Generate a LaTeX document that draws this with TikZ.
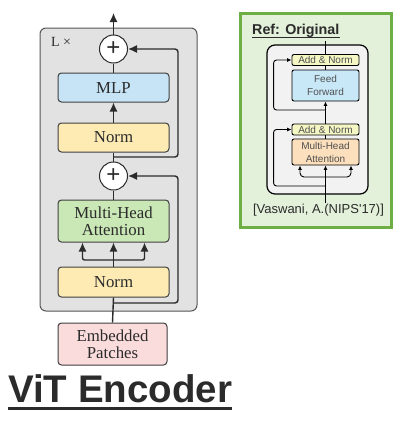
\documentclass[tikz,border=0pt]{standalone}
\usepackage{fontspec}
\setmainfont{Liberation Serif}
\newfontfamily\helv{Liberation Sans}
\usetikzlibrary{
  arrows.meta,
  calc,
  backgrounds,
}
\definecolor{ink}{HTML}{2B2B2B}
\definecolor{layerFill}{HTML}{E2E2E2}
\definecolor{layerStroke}{HTML}{555555}
\definecolor{blockStroke}{HTML}{404040}
\definecolor{mlpFill}{HTML}{C6E4F6}
\definecolor{normFill}{HTML}{FDEBB3}
\definecolor{mhaFill}{HTML}{CAE7B6}
\definecolor{embFill}{HTML}{FADCDC}
\definecolor{refStroke}{HTML}{6DAE45}
\definecolor{refFill}{HTML}{E3F0DA}
\definecolor{innerFill}{HTML}{F2F2F2}
\definecolor{refText}{HTML}{505050}
\definecolor{anFill}{HTML}{F4F6C4}
\definecolor{ffFill}{HTML}{C8E8F8}
\definecolor{rmhaFill}{HTML}{FCDFBC}
\newcommand{\blockfont}{\fontsize{16.8}{17}\selectfont}
\newcommand{\plusfont}{\helv\fontsize{24}{24}\selectfont}
\newcommand{\smallfont}{\helv\fontsize{10}{13}\selectfont}
\newcommand{\vitfont}{\helv\bfseries\fontsize{38.5}{40}\selectfont}
\newcommand{\reftitlefont}{\helv\bfseries\fontsize{14.3}{16}\selectfont}
\newcommand{\citefont}{\helv\fontsize{13}{15}\selectfont}
\tikzset{
  every node/.style={
    text=ink,
    align=center,
    inner sep=0pt,
  },
  layerbg/.style={
    rectangle, rounded corners=6pt,
    draw=layerStroke, line width=1pt,
    fill=layerFill,
  },
  block/.style={
    rectangle, rounded corners=3.5pt,
    draw=blockStroke, line width=1pt,
    minimum width=111pt,
    font=\blockfont,
  },
  addop/.style={
    circle, draw=ink, line width=1pt,
    fill=white, minimum size=28pt,
    font=\plusfont,
  },
  flow/.style={
    -{Latex[length=9pt,width=8pt]},
    draw=ink, line width=1.4pt,
  },
  wire/.style={
    draw=ink, line width=1.4pt,
  },
  refframe/.style={
    rectangle, draw=refStroke, line width=3pt,
    fill=refFill,
  },
  refinner/.style={
    rectangle, rounded corners=8pt,
    draw=black, line width=1.2pt,
    fill=innerFill,
  },
  refblock/.style={
    rectangle, rounded corners=2pt,
    draw=black, line width=0.9pt,
    minimum width=67pt,
    font=\smallfont, text=refText,
  },
  rflow/.style={
    -{Latex[length=4.5pt,width=4pt]},
    draw=black, line width=0.9pt,
  },
  rwire/.style={
    draw=black, line width=0.9pt,
  },
}

\begin{document}
\begin{tikzpicture}[x=1pt, y=-1pt]

% ============================================
% Coordinates in px of the 400x424 frame, y top-down
% ============================================
\fill[white] (0,0) rectangle (400,424);
\useasboundingbox (0,0) rectangle (400,424);

% ----- ViT encoder layer (left) -----
\node[layerbg, minimum width=157pt, minimum height=283pt] (layer) at (118.5,169.5) {};
\node[font=\fontsize{14}{14}\selectfont] (lx) at (61,42) {L ×};

\node[addop] (add1) at (113.5,49) {+};
\node[block, fill=mlpFill, minimum height=29pt]  (mlp)   at (113.5,87.5)  {MLP};
\node[block, fill=normFill, minimum height=29pt] (norm1) at (113.5,137.5) {Norm};
\node[addop] (add2) at (113.5,176) {+};
\node[block, fill=mhaFill, minimum height=42pt]  (mha)   at (113.5,221)   {Multi-Head\\Attention};
\node[block, fill=normFill, minimum height=30pt] (norm2) at (113.5,282)   {Norm};
\node[block, fill=embFill, minimum width=109pt, minimum height=42pt] (emb) at (112.5,344) {Embedded\\Patches};

\coordinate (out)    at (113.5,13);
\coordinate (split1) at (113.5,157);
\coordinate (split2) at (113.5,303);
\coordinate (fork)   at (113.5,260);

% ----- forward edges -----
\draw[flow] (add1.north)  -- (out);
\draw[wire] (mlp.north)   -- (add1.south);
\draw[flow] (norm1.north) -- (mlp.south);
\draw[wire] (add2.north)  -- (norm1.south);
\draw[wire] (mha.north)   -- (add2.south);
\draw[wire] (emb.north)   -- (norm2.south);
\draw[wire] (norm2.north) -- (fork);
\draw[flow] (fork) -- (mha.south);
\draw[flow, rounded corners=2pt] (fork) -| ($(mha.south)+(-31,0)$);
\draw[flow, rounded corners=2pt] (fork) -| ($(mha.south)+(31,0)$);

% ----- residual edges -----
\draw[flow, rounded corners=3pt] (split1) -| ($(add1.east)+(50,0)$) -- (add1.east);
\draw[flow, rounded corners=3pt] (split2) -| ($(add2.east)+(50,0)$) -- (add2.east);

% ----- title -----
\node[font=\vitfont, anchor=base west] (vit) at (8,402) {ViT Encoder};
\draw[line width=2.5pt, ink] ($(vit.base west)+(0,6.5)$) -- ($(vit.base east)+(0,6.5)$);

% ============================================
% Reference panel (right)
% ============================================
\node[refframe, minimum width=151pt, minimum height=214pt] (frame) at (315.5,120) {};
\node[font=\reftitlefont, anchor=base west] (reftitle) at (252,34) {Ref: Original};
\draw[line width=1.2pt, ink] ($(reftitle.base west)+(0,3.5)$) -- ($(reftitle.base east)+(0,3.5)$);

\node[refinner, minimum width=101pt, minimum height=149pt] (inner) at (317.5,119.5) {};

\node[refblock, fill=anFill, minimum height=11pt]   (ran1) at (325.5,60)    {Add \& Norm};
\node[refblock, fill=ffFill, minimum height=31pt]   (rff)  at (325.5,85.5)  {Feed\\Forward};
\node[refblock, fill=anFill, minimum height=11pt]   (ran2) at (325.5,129.5) {Add \& Norm};
\node[refblock, fill=rmhaFill, minimum height=26pt] (rmha) at (325.5,152)   {Multi-Head\\Attention};

\coordinate (rout)    at (325.5,41);
\coordinate (rsplit1) at (325.5,110);
\coordinate (rsplit2) at (325.5,186);
\coordinate (rfork)   at (325.5,177);
\coordinate (rin)     at (325.5,203);

\draw[rwire] (ran1.north) -- (rout);
\draw[rwire] (ran1.south) -- (rff.north);
\draw[rflow] (ran2.north) -- (rff.south);
\draw[rwire] (rmha.north) -- (ran2.south);
\draw[rflow] (rin) -- (rmha.south);
\draw[rflow, rounded corners=4pt] (rfork) -| ($(rmha.south)+(-25.5,0)$);
\draw[rflow, rounded corners=4pt] (rfork) -| ($(rmha.south)+(25.5,0)$);
\draw[rflow, rounded corners=3pt] (rsplit1) -| ($(ran1.west)+(-18,0)$) -- (ran1.west);
\draw[rflow, rounded corners=3pt] (rsplit2) -| ($(ran2.west)+(-18,0)$) -- (ran2.west);

\node[font=\citefont] (cite) at (318.5,210) {[Vaswani, A.(NIPS'17)]};

\end{tikzpicture}
\end{document}
